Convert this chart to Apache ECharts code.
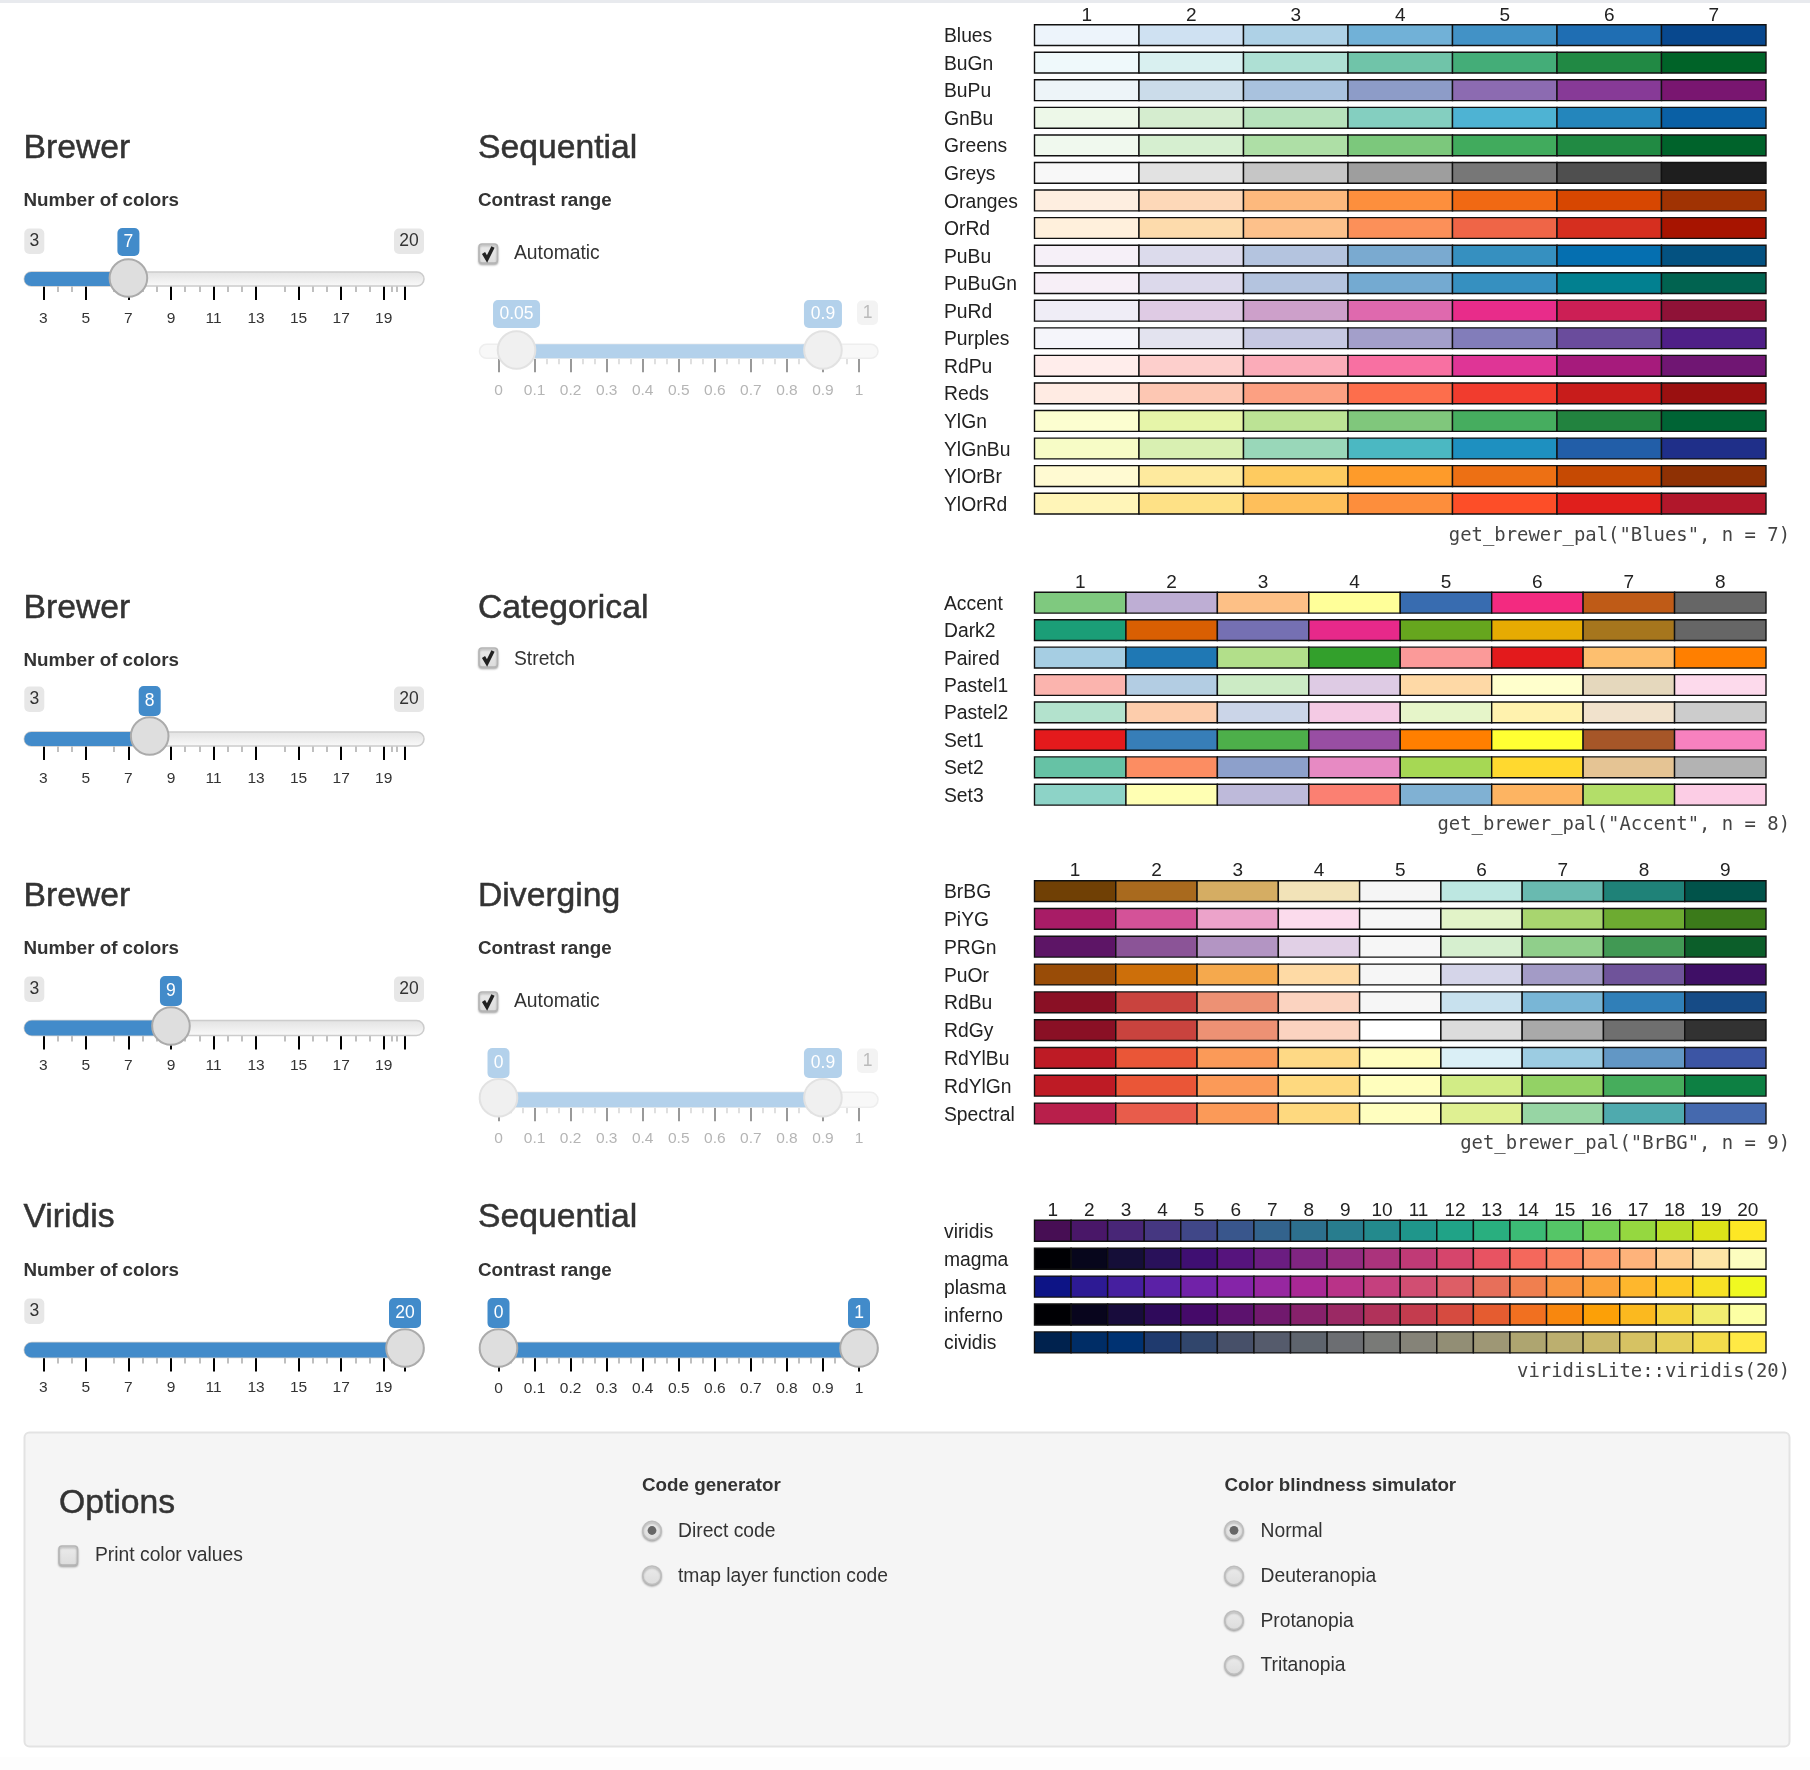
<!DOCTYPE html>
<html>
<head>
<meta charset="utf-8">
<title>Color palettes</title>
<style>
html,body{margin:0;padding:0;background:#fff;}
#main{width:1810px;height:1770px;}
</style>
<script src="https://cdn.jsdelivr.net/npm/echarts@6/dist/echarts.min.js"></script>
</head>
<body>
<div id="main"></div>
<script>
// ---- palette names and colours ----
var sequentialNames=["Blues","BuGn","BuPu","GnBu","Greens","Greys","Oranges","OrRd","PuBu","PuBuGn","PuRd","Purples","RdPu","Reds","YlGn","YlGnBu","YlOrBr","YlOrRd"];
var sequentialColumns=["1","2","3","4","5","6","7"];
var sequentialColors=[
  ["#edf4fb","#cfe1f2","#aed1e6","#71b1d7","#4292c6","#1f6eb3","#08488e"],
  ["#eff9fb","#d9f0f0","#aee0d4","#70c4a9","#44ad78","#218944","#006328"],
  ["#edf4f8","#cbdcea","#a9c2de","#8d9cc8","#8c6bb1","#873a97","#791670"],
  ["#edf8e8","#d5edcf","#b6e2bb","#84cfc0","#4eb3d3","#2486bc","#0a60a5"],
  ["#f0f9ee","#d6efd0","#aedfa6","#7cc87c","#41ab5d","#218a43","#00632b"],
  ["#f8f8f8","#e2e2e2","#c6c6c6","#9e9e9e","#777777","#4f4f4f","#1e1e1e"],
  ["#feeee0","#fdd8b8","#fdb97d","#fd8f3d","#f16913","#d74701","#a03303"],
  ["#fff0dc","#fddbac","#fdc18b","#fc9059","#ef6547","#d62f1f","#a71400"],
  ["#f6f0f8","#dcdbec","#b4c4df","#7aaad0","#3690c0","#056fb0","#045281"],
  ["#f7eff7","#dcd9eb","#b4c4df","#74aad1","#3690c0","#028090","#016350"],
  ["#efedf6","#dfcbe4","#cda0ca","#df69ae","#e82c8a","#cc1f55","#8f1237"],
  ["#f5f5fa","#e3e3ef","#c6c8e2","#a39fca","#827dba","#6a4c9c","#4f1f87"],
  ["#ffedeb","#fdcfcc","#fbacb9","#f870a2","#df3596","#a61b7c","#701673"],
  ["#ffebe3","#fdc7b3","#fca082","#fd6e4c","#f13c2e","#c81c1b","#9a1010"],
  ["#fcfed0","#e6f5a9","#bce395","#80c77c","#46ad5f","#22833f","#006435"],
  ["#f7fcc6","#d9f0b2","#99d7b9","#4bb8c2","#1e90c0","#225ea8","#1f2f89"],
  ["#fffad2","#feea9e","#fecb60","#fe9b2a","#ed7014","#c64a03","#8f3104"],
  ["#fff5b8","#fee186","#febf5b","#fd8e3c","#fd4e28","#e01f1c","#b1172b"]
];
var categoricalNames=["Accent","Dark2","Paired","Pastel1","Pastel2","Set1","Set2","Set3"];
var categoricalColumns=["1","2","3","4","5","6","7","8"];
var categoricalColors=[
  ["#7fc97f","#beaed4","#fdc086","#ffff99","#386cb0","#f32a80","#bf5b17","#666666"],
  ["#1b9e77","#d95f02","#7570b3","#e7298a","#66a61e","#e6ab02","#a6761d","#666666"],
  ["#a6cee3","#1f78b4","#b2df8a","#33a02c","#fb9a99","#e31a1c","#fdbf6f","#ff7f00"],
  ["#fbb4ae","#b3cde3","#ccebc5","#decbe4","#fed9a6","#ffffcc","#e5d8bd","#fddaec"],
  ["#b3e2cd","#fdcdac","#cbd5e8","#f4cae4","#e6f5c9","#fff2ae","#f1e2cc","#cccccc"],
  ["#e41a1c","#377eb8","#4daf4a","#984ea3","#ff7f00","#ffff33","#a65628","#f781bf"],
  ["#66c2a5","#fc8d62","#8da0cb","#e78ac3","#a6d854","#ffd92f","#e5c494","#b3b3b3"],
  ["#8dd3c7","#ffffb3","#bebada","#fb8072","#80b1d3","#fdb462","#b3de69","#fccde5"]
];
var divergingNames=["BrBG","PiYG","PRGn","PuOr","RdBu","RdGy","RdYlBu","RdYlGn","Spectral"];
var divergingColumns=["1","2","3","4","5","6","7","8","9"];
var divergingColors=[
  ["#704005","#a96a1e","#d5ad63","#f2e3b8","#f5f5f5","#bde7e1","#69bab0","#1f8278","#01534a"],
  ["#a81c66","#d45298","#eca3ca","#fbdbec","#f6f6f6","#e2f3c8","#a8d56f","#6dab31","#3b7a1a"],
  ["#5d1566","#8b5497","#b395c3","#e1d0e6","#f6f6f6","#d6efcf","#90cf8b","#419954","#0c5e2a"],
  ["#994c07","#cd6f0a","#f5a94d","#fedaa5","#f6f6f6","#d5d5e9","#a39bc6","#6f539a","#3f0f66"],
  ["#8a1025","#c9433e","#ed9174","#fbd3c0","#f6f6f6","#c8e1ee","#79b6d6","#307fb8","#164b86"],
  ["#8a1025","#c9433e","#ed9174","#fbd3c0","#ffffff","#dcdcdc","#a9a9a9","#6f6f6f","#323232"],
  ["#be1b25","#ea5637","#fb9a58","#fed985","#fffdbd","#daeff6","#9ccce2","#6297c5","#3c55a4"],
  ["#be1b25","#ea5637","#fb9a58","#fed97f","#fffebd","#d2ec86","#93d265","#46ad5c","#0d8043"],
  ["#b81f4b","#e85c4b","#fb9a58","#fed97f","#fffebf","#dff092","#97d5a4","#4faaae","#4569ae"]
];
var viridisNames=["viridis","magma","plasma","inferno","cividis"];
var viridisColumns=["1","2","3","4","5","6","7","8","9","10","11","12","13","14","15","16","17","18","19","20"];
var viridisColors=[
  ["#470e54","#491768","#482677","#453781","#404788","#39568c","#33638d","#2d708e","#287d8e","#238a8d","#1f968b","#20a387","#29af7f","#3cbb75","#55c667","#73d055","#95d840","#b8de29","#dce319","#fde725"],
  ["#000004","#07061c","#150e38","#29115a","#3f0f72","#56147d","#6b1d81","#802582","#952c80","#ab337c","#c03a76","#d6456c","#e85362","#f4685c","#fa815f","#fd9a6a","#feb37b","#fecc8f","#fde4a6","#fcfdbf"],
  ["#0d1486","#2d1a94","#461f9f","#5b21a6","#7122a8","#8524a8","#9727a0","#a92895","#b93388","#c5407e","#d14e72","#dd5e66","#e76f5a","#f07f4f","#f89441","#fba238","#feb72d","#fdca26","#f7e225","#f0f921"],
  ["#000004","#08051d","#180c3c","#2f0a5b","#450a69","#5c126e","#71196e","#87216b","#9b2964","#b1325a","#c43c4e","#d64b40","#e55c30","#f17020","#f8870e","#fca007","#fbb91f","#f5d43f","#f1ed71","#fcffa4"],
  ["#00224e","#002d66","#003272","#1f3a6e","#31466c","#475069","#555b6c","#5e646d","#6c6e72","#797a77","#858378","#928e75","#9e9775","#aea570","#bcaf6f","#c9b86a","#d6c263","#e4cf5b","#f3dc4c","#ffe945"]
];

// ---- slider values and ticks ----
var countValues=[7,8,9,20];
var countMin=3, countMax=20;
var countTicks=[3,5,7,9,11,13,15,17,19,20];
var countTickLabels=[3,5,7,9,11,13,15,17,19];
var countMinorTicks=[3.67,4.33,6.33,7.67,8.33,9.67,10.33,11.67,12.33,14.33,15.67,16.33,17.67,18.33,19.37,19.63];
var contrastLow=[0.05,0,0];
var contrastHigh=[0.9,0.9,1];
var contrastTicks=[0,0.1,0.2,0.3,0.4,0.5,0.6,0.7,0.8,0.9,1];
var contrastMinorTicks=[0.033,0.067,0.133,0.167,0.233,0.267,0.333,0.367,0.433,0.467,0.533,0.567,0.633,0.667,0.733,0.767,0.833,0.867,0.933,0.967];

// ---- text ----
var headLeft=["Brewer","Brewer","Brewer","Viridis"];
var headRight=["Sequential","Categorical","Diverging","Sequential"];
var codeLines=['get_brewer_pal("Blues", n = 7)','get_brewer_pal("Accent", n = 8)','get_brewer_pal("BrBG", n = 9)','viridisLite::viridis(20)'];
var codeNames=["Direct code","tmap layer function code"];
var blindNames=["Normal","Deuteranopia","Protanopia","Tritanopia"];

var FONT='"Liberation Sans",Arial,sans-serif';

var grids=[],xAxes=[],yAxes=[],series=[];

//色板:每行一组色块
function addPalette(names,columns,colors,firstTop,pitch,cellH){
  var g=grids.length;
  grids.push({left:1034.5,width:731.5,top:firstTop-(pitch-cellH)/2,height:pitch*names.length});
  xAxes.push({gridIndex:g,type:"category",position:"top",data:columns,
    axisLine:{show:false},axisTick:{show:false},
    axisLabel:{color:"#222",fontFamily:FONT,fontSize:19,margin:-3.5,interval:0}});
  yAxes.push({gridIndex:g,type:"category",inverse:true,data:names,
    axisLine:{show:false},axisTick:{show:false},
    axisLabel:{align:"left",margin:90.5,interval:0,
      formatter:function(v){return "{n|"+v+"}";},
      rich:{n:{color:"#222",fontFamily:FONT,fontSize:19.3,padding:[3.5,0,0,0]}}}});
  var data=[];
  for(var r=0;r<names.length;r++){
    for(var c=0;c<columns.length;c++){
      data.push([c,r]);
    }
  }
  series.push({type:"custom",xAxisIndex:xAxes.length-1,yAxisIndex:yAxes.length-1,data:data,
    encode:{x:0,y:1},clip:false,silent:true,
    renderItem:function(params,api){
      var p=api.coord([api.value(0),api.value(1)]);
      var w=api.size([1,0])[0];
      return {type:"rect",shape:{x:p[0]-w/2,y:p[1]-cellH/2,width:w,height:cellH},
        style:{fill:colors[api.value(1)][api.value(0)],stroke:"#111",lineWidth:1.4}};
    }});
}

function badge(cx,y,w,h,text,fill,color){
  return [
    {type:"rect",shape:{x:cx-w/2,y:y,width:w,height:h,r:5},style:{fill:fill}},
    {type:"text",x:cx,y:y+h/2,style:{text:text,fill:color,font:'17.5px '+FONT,align:"center",verticalAlign:"middle"}}
  ];
}

//滑块:轨道、填充、把手都走坐标轴
function addSlider(opt){
  var g=grids.length;
  var dim=opt.disabled;
  grids.push({left:opt.left,width:opt.width,top:opt.top,height:opt.height});
  xAxes.push({gridIndex:g,type:"value",position:"bottom",min:opt.min,max:opt.max,
    axisLine:{show:false,onZero:false},splitLine:{show:false},
    axisTick:{show:true,length:14,customValues:opt.ticks,lineStyle:{color:dim?"#999":"#000",width:2}},
    axisLabel:{show:true,customValues:opt.labels,color:dim?"#b5b5b5":"#333",fontFamily:FONT,fontSize:15.5,margin:opt.labelMargin,hideOverlap:false}});
  var mainX=xAxes.length-1;
  xAxes.push({gridIndex:g,type:"value",position:"bottom",min:opt.min,max:opt.max,
    axisLine:{show:false,onZero:false},splitLine:{show:false},axisLabel:{show:false},
    axisTick:{show:true,length:6,customValues:opt.minor,lineStyle:{color:dim?"#d8d8d8":"#b0b0b0",width:1.6}}});
  yAxes.push({gridIndex:g,type:"value",min:0,max:1,show:false});
  series.push({type:"custom",xAxisIndex:mainX,yAxisIndex:yAxes.length-1,z:5,silent:true,clip:false,
    data:[[opt.low,opt.high]],encode:{x:[0,1]},
    renderItem:function(params,api){
      var cs=params.coordSys;
      var xLow=api.coord([api.value(0),0])[0];
      var xHigh=api.coord([api.value(1),0])[0];
      var trackL=cs.x-19,trackR=cs.x+cs.width+19;
      var thumbY=opt.thumbY;
      var trackFill=dim?"#f8f8f8":{type:"linear",x:0,y:0,x2:0,y2:1,colorStops:[{offset:0,color:"#e2e2e2"},{offset:1,color:"#fafafa"}]};
      var barFill=dim?"#b3d1eb":"#428bca";
      var thumbStyle=dim?{fill:"#f0f0f0",stroke:"#e2e2e2",lineWidth:2}:{fill:"#dedede",stroke:"#ababab",lineWidth:2};
      var kids=[];
      kids.push({type:"rect",shape:{x:trackL,y:cs.y,width:trackR-trackL,height:cs.height,r:cs.height/2},
        style:{fill:trackFill,stroke:dim?"#eeeeee":"#cccccc",lineWidth:1.5}});
      var barL=opt.single?trackL:xLow;
      kids.push({type:"rect",shape:{x:barL,y:cs.y,width:xHigh-barL,height:cs.height,r:opt.single?[cs.height/2,0,0,cs.height/2]:0},
        style:{fill:barFill}});
      if(!opt.single){
        kids.push({type:"circle",shape:{cx:xLow,cy:thumbY,r:18.8},style:thumbStyle});
      }
      kids.push({type:"circle",shape:{cx:xHigh,cy:thumbY,r:18.8},style:thumbStyle});
      var by=opt.badgeTop;
      var valFill=dim?"#b3d1eb":"#428bca";
      if(opt.minBadge){
        kids=kids.concat(badge(trackL+10,by+0.5,20,25.5,opt.minBadge,"#e7e7e7","#333"));
      }
      if(opt.maxBadge){
        var mw=opt.maxBadge.length>1?30:21;
        kids=kids.concat(badge(trackR-mw/2,by+0.5,mw,dim?24.5:25.5,opt.maxBadge,dim?"#f3f3f3":"#e7e7e7",dim?"#bbb":"#333"));
      }
      if(!opt.single){
        var lowText=String(api.value(0));
        kids=kids.concat(badge(xLow,by,lowText.length>2?47:22,opt.valueH,lowText,valFill,"#fff"));
      }
      var highText=String(api.value(1));
      kids=kids.concat(badge(xHigh,by,highText.length>1?(opt.single?32:38):22,opt.valueH,highText,valFill,"#fff"));
      return {type:"group",children:kids};
    }});
}

addPalette(sequentialNames,sequentialColumns,sequentialColors,24.7,27.56,20.8);
addPalette(categoricalNames,categoricalColumns,categoricalColors,592.3,27.43,20.8);
addPalette(divergingNames,divergingColumns,divergingColors,880.7,27.8,20.8);
addPalette(viridisNames,viridisColumns,viridisColors,1220.3,27.9,21);

var countOpts=[
  {top:272,height:14,labelMargin:25,badgeTop:228,valueH:28,thumbY:278},
  {top:732,height:14,labelMargin:25,badgeTop:686,valueH:30,thumbY:736},
  {top:1020.5,height:15,labelMargin:22.5,badgeTop:976,valueH:30,thumbY:1026},
  {top:1342.5,height:15,labelMargin:22.5,badgeTop:1298,valueH:30,thumbY:1348}
];
for(var i=0;i<countValues.length;i++){
  addSlider({left:43.3,width:361.7,top:countOpts[i].top,height:countOpts[i].height,min:countMin,max:countMax,
    ticks:countTicks,labels:countTickLabels,minor:countMinorTicks,labelMargin:countOpts[i].labelMargin,
    low:countMin,high:countValues[i],single:true,badgeTop:countOpts[i].badgeTop,valueH:countOpts[i].valueH,thumbY:countOpts[i].thumbY,
    minBadge:String(countMin),maxBadge:countValues[i]==countMax?"":String(countMax)});
}
var contrastOpts=[
  {top:344.3,height:14,badgeTop:300,valueH:28,thumbY:350,labelMargin:24,disabled:true,maxBadge:"1"},
  {top:1092.3,height:15,badgeTop:1048,valueH:30,thumbY:1097.7,labelMargin:23,disabled:true,maxBadge:"1"},
  {top:1342.5,height:15,badgeTop:1298,valueH:30,thumbY:1348,labelMargin:23,disabled:false,maxBadge:""}
];
for(var j=0;j<contrastLow.length;j++){
  addSlider({left:498.5,width:360.5,top:contrastOpts[j].top,height:contrastOpts[j].height,min:0,max:1,
    ticks:contrastTicks,labels:contrastTicks,minor:contrastMinorTicks,labelMargin:contrastOpts[j].labelMargin,
    low:contrastLow[j],high:contrastHigh[j],single:false,badgeTop:contrastOpts[j].badgeTop,valueH:contrastOpts[j].valueH,thumbY:contrastOpts[j].thumbY,
    maxBadge:contrastOpts[j].maxBadge,disabled:contrastOpts[j].disabled});
}

// ---- page parts around the chart ----
function label(x,y,text,font,fill,align){
  return {type:"text",x:x,y:y,z:3,style:{text:text,font:font,fill:fill||"#333",align:align||"left",verticalAlign:"middle"}};
}
function heading(x,y,text){
  var el=label(x,y,text,'33.7px '+FONT);
  el.style.stroke="#333";
  el.style.lineWidth=0.5;
  return el;
}
var BOLD='bold 18.8px '+FONT, BODY='19.3px '+FONT;
var boxFill={type:"linear",x:0,y:0,x2:0,y2:1,colorStops:[{offset:0,color:"#ececec"},{offset:1,color:"#dcdcdc"}]};

function checkbox(x,y,checked){
  var els=[{type:"rect",z:3,shape:{x:x,y:y,width:18.5,height:19,r:3},
    style:{fill:boxFill,stroke:"#b5b5b5",lineWidth:1.5,shadowColor:"rgba(0,0,0,0.25)",shadowBlur:2,shadowOffsetY:1.5}}];
  if(checked){
    els.push({type:"polyline",z:4,shape:{points:[[x+4.5,y+9],[x+8,y+15],[x+14,y+3]]},style:{stroke:"#222",lineWidth:3.6,fill:null}});
  }
  return els;
}
function radio(cx,cy,checked){
  var els=[{type:"circle",z:3,shape:{cx:cx,cy:cy,r:9.3},
    style:{fill:boxFill,stroke:"#bdbdbd",lineWidth:1.5,shadowColor:"rgba(0,0,0,0.25)",shadowBlur:2,shadowOffsetY:1.5}}];
  if(checked){
    els.push({type:"circle",z:4,shape:{cx:cx,cy:cy,r:4.4},style:{fill:"#666"}});
  }
  return els;
}

var graphics=[
  {type:"rect",z:0,shape:{x:0,y:0,width:1810,height:3},style:{fill:"#e8eaee"}},
  {type:"rect",z:0,shape:{x:0,y:1757,width:1810,height:13},style:{fill:"#fdfdfd"}},
  {type:"rect",z:1,shape:{x:24.5,y:1432.5,width:1765,height:314,r:5},
    style:{fill:"#f5f5f5",stroke:"#e3e3e3",lineWidth:2}}
];
var headY=[149,609,896.5,1218];
var subY=[200.5,660.5,948.5,1270.5];
for(var k=0;k<headLeft.length;k++){
  graphics.push(heading(23.5,headY[k],headLeft[k]));
  graphics.push(heading(478,headY[k],headRight[k]));
  graphics.push(label(23.5,subY[k],"Number of colors",BOLD));
  if(k!=1){
    graphics.push(label(478,subY[k],"Contrast range",BOLD));
  }
}
graphics=graphics.concat(checkbox(479,244,true),checkbox(479,648,true),checkbox(479,992,true));
graphics.push(label(514,254,"Automatic",BODY));
graphics.push(label(514,660,"Stretch",BODY));
graphics.push(label(514,1002,"Automatic",BODY));

var codeY=[536,825,1144,1372];
for(var m=0;m<codeLines.length;m++){
  graphics.push(label(1790,codeY[m],codeLines[m],'18.9px "DejaVu Sans Mono",monospace',"#444","right"));
}

graphics.push(heading(59,1504,"Options"));
graphics=graphics.concat(checkbox(59,1546,false));
graphics.push(label(95,1556,"Print color values",BODY));

graphics.push(label(642,1486,"Code generator",BOLD));
var codeRadioY=[1530.5,1575.2];
for(var n=0;n<codeNames.length;n++){
  graphics=graphics.concat(radio(652,codeRadioY[n],n==0));
  graphics.push(label(678,codeRadioY[n]+1,codeNames[n],BODY));
}
graphics.push(label(1224.5,1486,"Color blindness simulator",BOLD));
var blindRadioY=[1530.3,1575.5,1620.2,1665];
for(var q=0;q<blindNames.length;q++){
  graphics=graphics.concat(radio(1234,blindRadioY[q],q==0));
  graphics.push(label(1260.5,blindRadioY[q]+1,blindNames[q],BODY));
}

var myChart=echarts.init(document.getElementById("main"));
myChart.setOption({
  animation:false,
  backgroundColor:"#fff",
  tooltip:{show:false},
  grid:grids,
  xAxis:xAxes,
  yAxis:yAxes,
  series:series,
  graphic:{elements:graphics}
});
</script>
</body>
</html>
